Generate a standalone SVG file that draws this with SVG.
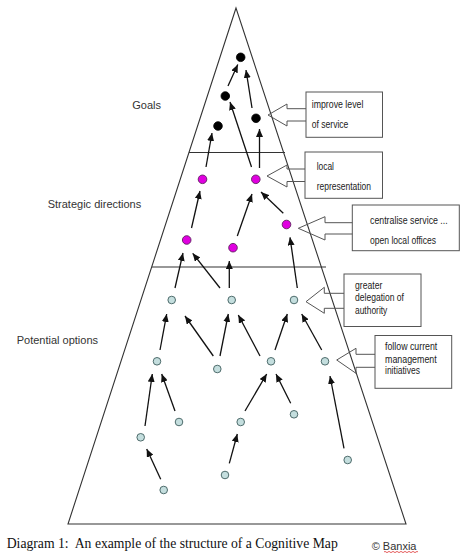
<svg xmlns="http://www.w3.org/2000/svg" width="474" height="560" viewBox="0 0 474 560">
<style>
.frame{fill:none;stroke:#333;stroke-width:1.1}
.conn line{stroke:#111;stroke-width:1.3;marker-end:url(#ah)}
.goal{fill:#000;stroke:#000;stroke-width:0.8}
.strat{fill:#e000e0;stroke:#602060;stroke-width:0.9}
.opt{fill:#c4dede;stroke:#3e5e5e;stroke-width:0.9}
.box{fill:#fff;stroke:#555;stroke-width:1}
.ptr{fill:none;stroke:#555;stroke-width:1}
.ct{font-family:"Liberation Sans",Arial,sans-serif;font-size:10px;fill:#222}
.lvl{font-family:"Liberation Sans",Arial,sans-serif;font-size:11px;fill:#333}
.cap{font-family:"Liberation Serif","Times New Roman",serif;font-size:13.7px;fill:#111}
</style>
<defs>
<marker id="ah" markerWidth="8" markerHeight="7" refX="8" refY="3.5" orient="auto" markerUnits="userSpaceOnUse">
<path d="M0,0 L8,3.5 L0,7 z" fill="#111"/>
</marker>
</defs>
<rect width="474" height="560" fill="#fff"/>
<g id="pyramid">
<path class="frame" d="M236,8 L68,524 L406,524 Z"/>
<line class="frame" x1="189" y1="152.5" x2="285" y2="152.5"/>
<line class="frame" x1="152" y1="267" x2="326" y2="267"/>
</g>
<g id="levels">
<text class="lvl" x="132.3" y="109">Goals</text>
<text class="lvl" x="47.7" y="208">Strategic directions</text>
<text class="lvl" x="16.7" y="344">Potential options</text>
</g>
<g id="connectors" class="conn">
<line x1="228" y1="86" x2="237.8" y2="64.5"/>
<line x1="252" y1="108" x2="246" y2="70"/>
<line x1="206" y1="167" x2="212" y2="133"/>
<line x1="251.5" y1="167" x2="230" y2="102"/>
<line x1="259.5" y1="168" x2="259.5" y2="129"/>
<line x1="191.5" y1="228" x2="200" y2="191"/>
<line x1="237.3" y1="236" x2="252" y2="194"/>
<line x1="283.3" y1="213.3" x2="261" y2="192"/>
<line x1="175" y1="288" x2="183" y2="253"/>
<line x1="220" y1="288" x2="192.7" y2="253.3"/>
<line x1="229.3" y1="288" x2="229.3" y2="261"/>
<line x1="297.3" y1="288" x2="290" y2="237.3"/>
<line x1="160" y1="350" x2="166.7" y2="314"/>
<line x1="213.3" y1="356" x2="185" y2="316"/>
<line x1="220" y1="356" x2="228.3" y2="314"/>
<line x1="260" y1="356" x2="238.3" y2="315"/>
<line x1="275" y1="350" x2="287.3" y2="314"/>
<line x1="321.7" y1="350" x2="301.7" y2="314"/>
<line x1="145" y1="426" x2="152.3" y2="374"/>
<line x1="175" y1="411" x2="161.7" y2="374"/>
<line x1="160.7" y1="479.3" x2="146.7" y2="449"/>
<line x1="245" y1="411" x2="266.7" y2="374"/>
<line x1="290.7" y1="403.3" x2="276" y2="374"/>
<line x1="229.3" y1="463.3" x2="237.3" y2="434"/>
<line x1="344" y1="448.3" x2="330" y2="376"/>
</g>
<g id="goal-nodes">
<circle id="g1" class="goal" cx="240.7" cy="57.3" r="4.3"/>
<circle id="g2" class="goal" cx="225.3" cy="96" r="4.3"/>
<circle id="g3" class="goal" cx="256" cy="118.3" r="4.3"/>
<circle id="g4" class="goal" cx="218" cy="126" r="4.3"/>
</g>
<g id="strategy-nodes">
<circle id="s1" class="strat" cx="202.5" cy="179.3" r="4.3"/>
<circle id="s2" class="strat" cx="255.8" cy="179.3" r="4.3"/>
<circle id="s3" class="strat" cx="286.5" cy="224.5" r="4.3"/>
<circle id="s4" class="strat" cx="186.7" cy="240" r="4.3"/>
<circle id="s5" class="strat" cx="233" cy="247.7" r="4.3"/>
</g>
<g id="option-nodes">
<circle id="o1" class="opt" cx="171.7" cy="300" r="3.8"/>
<circle id="o2" class="opt" cx="231.7" cy="300" r="3.8"/>
<circle id="o3" class="opt" cx="294" cy="300" r="3.8"/>
<circle id="o4" class="opt" cx="157" cy="361.3" r="3.8"/>
<circle id="o5" class="opt" cx="217.3" cy="369" r="3.8"/>
<circle id="o6" class="opt" cx="271" cy="361.3" r="3.8"/>
<circle id="o7" class="opt" cx="325" cy="361.3" r="3.8"/>
<circle id="o8" class="opt" cx="179" cy="422" r="3.8"/>
<circle id="o9" class="opt" cx="140.7" cy="437.3" r="3.8"/>
<circle id="o10" class="opt" cx="240.7" cy="422" r="3.8"/>
<circle id="o11" class="opt" cx="294" cy="414.3" r="3.8"/>
<circle id="o12" class="opt" cx="347.7" cy="460" r="3.8"/>
<circle id="o13" class="opt" cx="225" cy="475" r="3.8"/>
<circle id="o14" class="opt" cx="163.7" cy="490" r="3.8"/>
</g>
<g id="callout-1">
<rect class="box" x="306" y="92" width="76.5" height="45.3"/>
<path class="ptr" d="M306,108.7 H287 V104 L268,115 L287,126 V121 H306"/>
<text class="ct" x="311.7" y="107.5" textLength="51.7" lengthAdjust="spacingAndGlyphs">improve level</text>
<text class="ct" x="311.7" y="127.5" textLength="36.7" lengthAdjust="spacingAndGlyphs">of service</text>
</g>
<g id="callout-2">
<rect class="box" x="305" y="152" width="77.5" height="46.3"/>
<path class="ptr" d="M305,169 H287 V165 L267,176 L287,187 V181.5 H305"/>
<text class="ct" x="316.7" y="170" textLength="17.3" lengthAdjust="spacingAndGlyphs">local</text>
<text class="ct" x="316.7" y="190" textLength="54.3" lengthAdjust="spacingAndGlyphs">representation</text>
</g>
<g id="callout-3">
<rect class="box" x="352.3" y="205" width="107" height="45.7"/>
<path class="ptr" d="M352.3,222.7 H325 V216.7 L298.3,228.3 L325,240 V234 H352.3"/>
<text class="ct" x="370" y="223.5" textLength="77.7" lengthAdjust="spacingAndGlyphs">centralise service ...</text>
<text class="ct" x="370" y="243.5" textLength="66" lengthAdjust="spacingAndGlyphs">open local offices</text>
</g>
<g id="callout-4">
<rect class="box" x="344" y="274" width="77" height="52.5"/>
<path class="ptr" d="M344,293.3 H324.3 V287.3 L306,301.7 L324.3,313.3 V308.3 H344"/>
<text class="ct" x="355" y="289.3" textLength="27.3" lengthAdjust="spacingAndGlyphs">greater</text>
<text class="ct" x="355" y="301" textLength="49" lengthAdjust="spacingAndGlyphs">delegation of</text>
<text class="ct" x="355" y="313.5" textLength="32.3" lengthAdjust="spacingAndGlyphs">authority</text>
</g>
<g id="callout-5">
<rect class="box" x="375" y="335.5" width="76.7" height="52.8"/>
<path class="ptr" d="M375,354.3 H356 V348.3 L336.7,360 L356,373.3 V367.3 H375"/>
<text class="ct" x="385" y="350" textLength="52.3" lengthAdjust="spacingAndGlyphs">follow current</text>
<text class="ct" x="385" y="362.5" textLength="51.7" lengthAdjust="spacingAndGlyphs">management</text>
<text class="ct" x="385" y="374" textLength="35" lengthAdjust="spacingAndGlyphs">initiatives</text>
</g>
<g id="caption">
<text class="cap" x="6.7" y="547.5" xml:space="preserve">Diagram 1:  An example of the structure of a Cognitive Map</text>
<text class="lvl" x="371.7" y="549.5" font-size="11.5">© Banxia</text>
<path d="M384,552 q1,-1.2 2,0 t2,0 t2,0 t2,0 t2,0 t2,0 t2,0 t2,0 t2,0 t2,0 t2,0 t2,0 t2,0 t2,0 t2,0 t2,0 t2,0" fill="none" stroke="#d33" stroke-width="0.8"/>
</g>
</svg>
